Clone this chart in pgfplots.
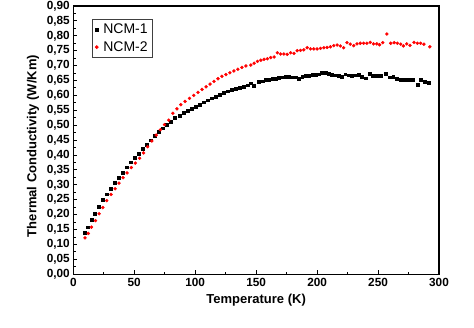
\documentclass[border=0pt]{standalone}
\usepackage{pgfplots}
\pgfplotsset{compat=1.18}
\usepackage{fontspec}
\setmainfont{Liberation Sans}

% Thermal conductivity vs temperature for two samples
\pgfplotstableread{
T     k
9.5   0.140
11.8  0.158
14.8  0.182
17.8  0.203
21.0  0.226
23.9  0.249
27.2  0.269
30.5  0.288
33.8  0.307
37.3  0.325
40.6  0.342
43.8  0.359
47.4  0.376
50.6  0.390
53.9  0.405
57.2  0.420
60.4  0.436
63.7  0.450
66.9  0.464
70.2  0.477
73.5  0.490
76.8  0.502
80.1  0.513
83.5  0.524
87.0  0.533
90.4  0.541
93.9  0.549
97.2  0.556
100.4 0.563
103.7 0.570
107.0 0.577
110.4 0.584
113.8 0.591
117.0 0.597
120.3 0.602
123.5 0.608
126.6 0.614
129.9 0.618
133.1 0.623
136.4 0.626
139.6 0.629
142.9 0.634
145.6 0.641
148.3 0.633
152.4 0.645
155.1 0.648
157.8 0.652
160.6 0.654
163.3 0.656
166.0 0.657
168.7 0.660
171.4 0.661
174.2 0.662
176.9 0.662
179.6 0.661
182.3 0.661
185.1 0.655
187.8 0.663
190.5 0.666
193.2 0.667
195.9 0.669
198.7 0.670
201.4 0.671
204.1 0.677
206.8 0.675
209.5 0.673
212.3 0.669
215.0 0.668
217.7 0.666
220.4 0.662
223.1 0.671
225.9 0.668
228.6 0.666
231.3 0.668
234.0 0.669
236.7 0.663
240.0 0.658
243.3 0.674
245.5 0.667
248.7 0.665
252.0 0.665
256.4 0.674
259.6 0.661
262.4 0.663
265.3 0.657
268.1 0.654
270.8 0.652
273.5 0.652
276.2 0.652
278.9 0.652
282.5 0.637
285.2 0.654
288.5 0.646
291.7 0.643
}\ncmone

\pgfplotstableread{
T     k
9.6   0.122
12.3  0.137
14.9  0.158
18.2  0.180
21.2  0.203
24.2  0.224
27.4  0.247
31.0  0.268
34.3  0.287
37.5  0.306
40.8  0.324
44.1  0.340
47.6  0.358
50.9  0.373
54.4  0.389
57.6  0.407
61.0  0.428
64.5  0.447
68.0  0.467
71.5  0.485
74.8  0.502
78.3  0.517
81.7  0.540
85.0  0.555
88.2  0.569
91.7  0.580
95.3  0.590
98.8  0.600
102.3 0.610
105.6 0.620
108.9 0.629
112.2 0.638
115.4 0.647
118.7 0.656
121.9 0.664
125.2 0.670
128.5 0.676
131.8 0.682
135.0 0.688
138.3 0.694
141.6 0.699
145.6 0.702
148.3 0.708
151.1 0.714
153.8 0.718
156.5 0.721
159.2 0.723
161.9 0.727
164.7 0.729
167.4 0.743
170.1 0.739
172.8 0.739
175.5 0.738
178.3 0.743
181.0 0.741
183.7 0.750
186.4 0.751
189.1 0.753
191.9 0.760
194.6 0.756
197.3 0.756
200.0 0.756
202.8 0.758
205.5 0.760
208.2 0.761
210.9 0.763
213.6 0.767
216.4 0.769
219.1 0.766
221.8 0.760
224.5 0.777
227.2 0.772
230.0 0.767
232.7 0.773
235.4 0.775
238.1 0.775
240.8 0.775
243.6 0.778
246.3 0.773
249.0 0.773
251.2 0.770
253.9 0.777
257.2 0.806
260.4 0.775
263.2 0.777
265.9 0.775
268.6 0.772
270.8 0.766
273.5 0.773
276.2 0.768
279.5 0.778
282.2 0.775
284.9 0.775
287.6 0.772
292.5 0.763
}\ncmtwo

\begin{document}
\begin{tikzpicture}
\path[use as bounding box] (-73.3pt,-53.7pt) rectangle (400.7pt,274.3pt);
\begin{axis}[
  scale only axis,
  width=365.7pt, height=268.3pt,
  at={(0pt,0pt)}, anchor=south west,
  xmin=0, xmax=300, ymin=0, ymax=0.90,
  xtick={0,50,100,150,200,250,300},
  ytick={0,0.05,0.10,0.15,0.20,0.25,0.30,0.35,0.40,0.45,0.50,0.55,0.60,0.65,0.70,0.75,0.80,0.85,0.90},
  minor x tick num=1, minor y tick num=1,
  tick align=inside,
  xtick pos=bottom, ytick pos=left,
  major tick length=4pt, minor tick length=2.5pt,
  every tick/.style={black, line width=1pt},
  axis line style={line width=1.2pt},
  /pgf/number format/assume math mode=true,
  tick label style={font=\fontsize{11.8}{13}\selectfont\bfseries},
  yticklabel style={/pgf/number format/.cd, fixed, fixed zerofill, precision=2, use comma},
  xticklabel style={/pgf/number format/.cd, fixed, precision=0},
  xlabel={Temperature (K)},
  ylabel={Thermal Conductivity (W/Km)},
  xlabel style={at={(axis description cs:0.5,-0.095)}, anchor=center, font=\fontsize{13}{14}\selectfont\bfseries},
  ylabel style={at={(axis description cs:-0.110,0.478)}, anchor=center, font=\fontsize{13}{14}\selectfont\bfseries},
  legend style={at={(axis description cs:0.051,0.952)}, anchor=north west,
    draw=black!75, line width=0.7pt, font=\fontsize{14}{16}\selectfont,
    inner xsep=3pt, inner ysep=3pt, row sep=2pt, column sep=3pt},
  legend cell align=left,
  legend image code/.code={\draw[mark repeat=2,mark phase=2,#1] plot coordinates {(0pt,0pt)(3pt,0pt)(6pt,0pt)};},
]
\addplot[only marks, mark=square*, mark size=1.4pt, black] table[x=T, y=k] {\ncmone};
\addplot[only marks, mark=*, mark size=1.5pt, red] table[x=T, y=k] {\ncmtwo};
\legend{NCM-1, NCM-2}
\end{axis}
\end{tikzpicture}
\end{document}
